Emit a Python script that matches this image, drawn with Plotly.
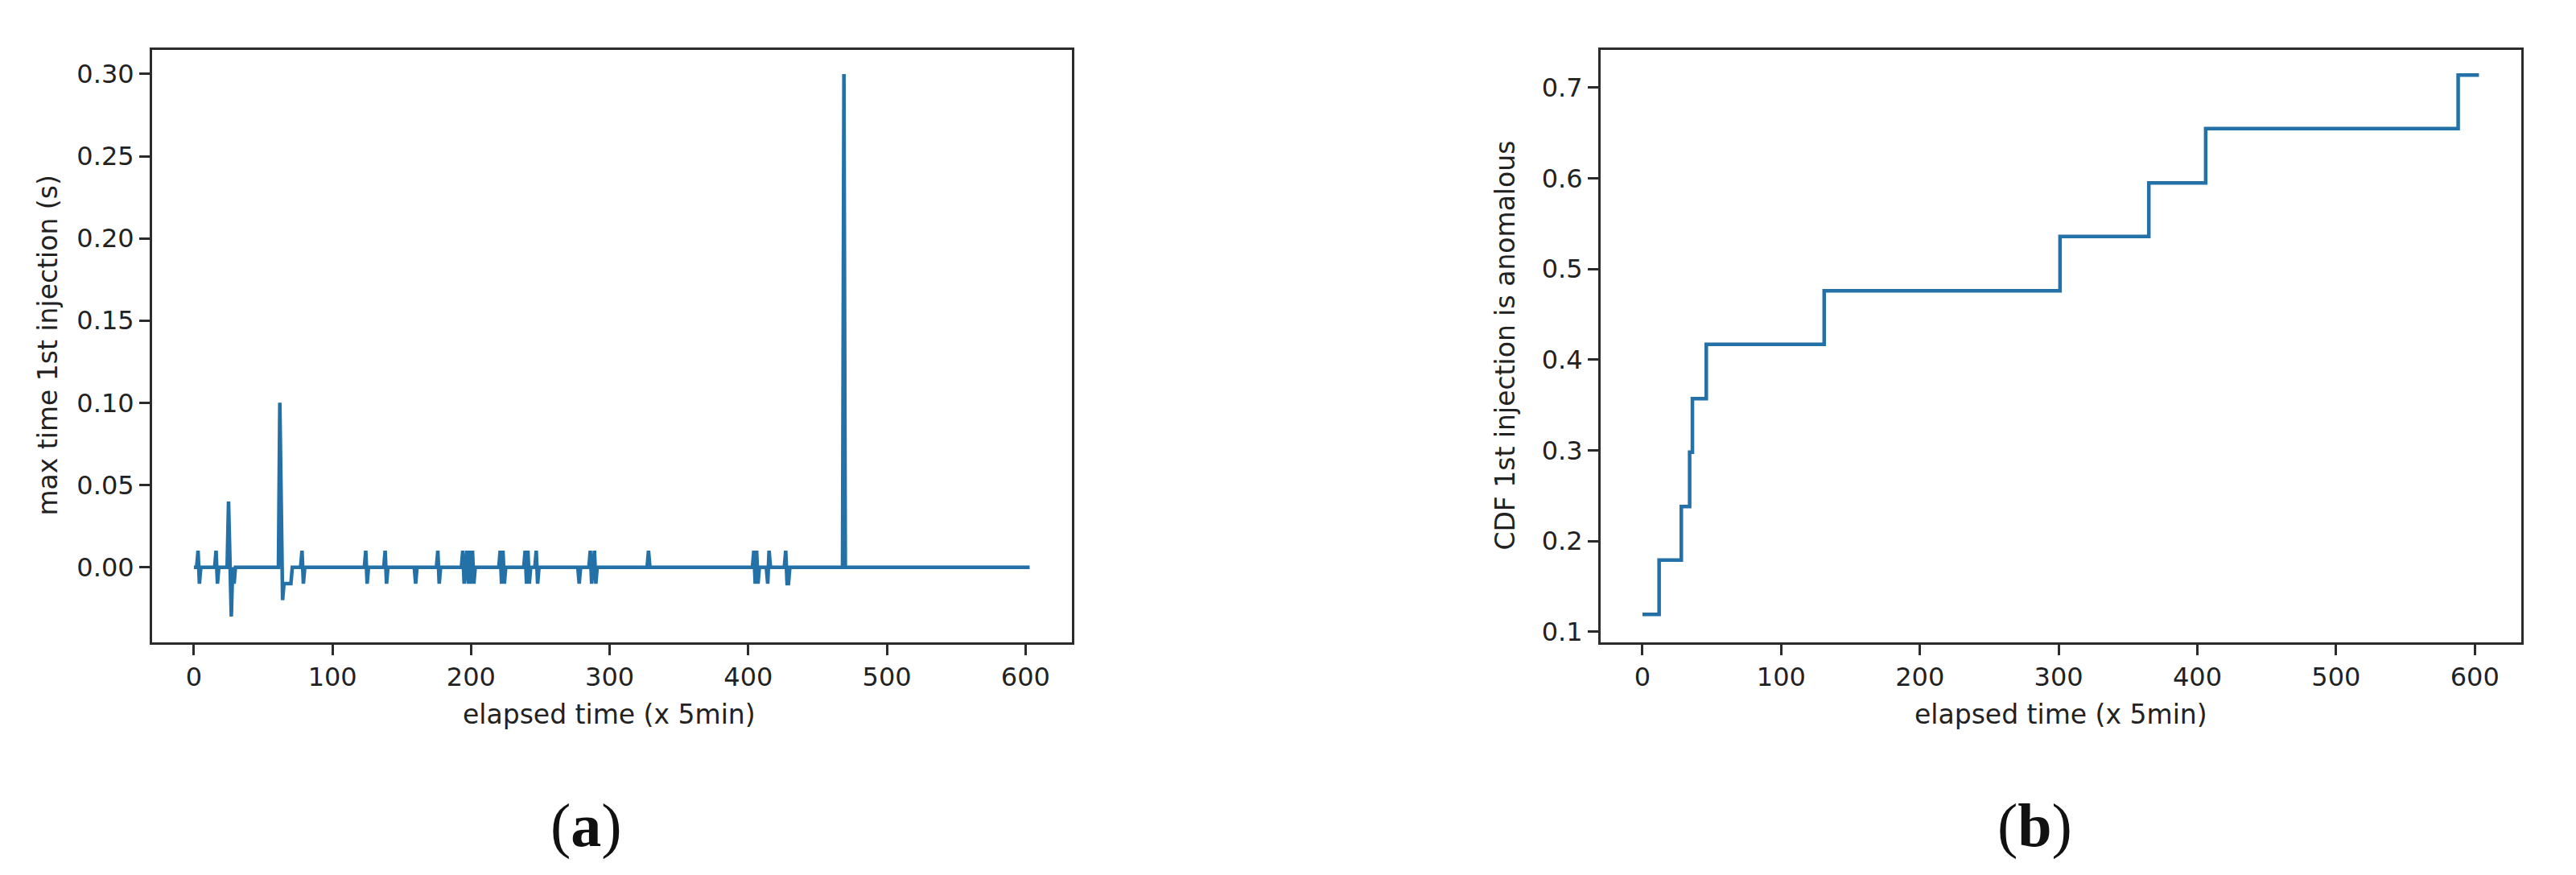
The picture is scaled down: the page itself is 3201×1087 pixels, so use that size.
import plotly.graph_objects as go

# (a) max time of 1st injection, breakpoints of the trace
time_a = [0, 2, 3, 4, 5, 15, 16, 17, 18, 24, 25, 27, 28, 29, 30,
          61, 62, 64, 65, 70, 71, 77, 78, 79, 80,
          123, 124, 125, 126, 137, 138, 139, 140, 159, 160, 161,
          175, 176, 177, 178, 193, 194, 195, 196, 197, 198, 199, 200, 201, 202, 203,
          220, 221, 222, 223, 224, 225, 238, 239, 240, 241, 242, 243,
          246, 247, 248, 249, 277, 278, 279, 285, 286, 287, 288, 289, 290, 291,
          327, 328, 329, 403, 404, 405, 406, 407, 408, 413, 414, 415, 416,
          426, 427, 428, 429, 430, 468, 469, 470, 603]
max_time = [0, 0, 0.01, -0.01, 0, 0, 0.01, -0.01, 0, 0, 0.04, -0.03, 0, -0.01, 0,
            0, 0.10, -0.02, -0.01, -0.01, 0, 0, 0.01, -0.01, 0,
            0, 0.01, -0.01, 0, 0, 0.01, -0.01, 0, 0, -0.01, 0,
            0, 0.01, -0.01, 0, 0, 0.01, -0.01, 0, 0.01, -0.01, 0.01, -0.01, 0.01, -0.01, 0,
            0, 0.01, -0.01, 0.01, -0.01, 0, 0, 0.01, -0.01, 0.01, -0.01, 0,
            0, 0.01, -0.01, 0, 0, -0.01, 0, 0, 0.01, -0.01, 0, 0.01, -0.01, 0,
            0, 0.01, 0, 0, 0.01, -0.01, 0.01, -0.01, 0, 0, -0.01, 0.01, 0,
            0, 0.01, -0.01, -0.01, 0, 0, 0.30, 0, 0]

# (b) CDF of the 1st injection being anomalous, step points
time_b = [0, 12, 28, 34, 36, 46, 131, 301, 365, 406, 588, 603]
cdf = [0.119, 0.179, 0.238, 0.298, 0.357, 0.417, 0.476, 0.536, 0.595, 0.655, 0.714, 0.714]

W, H = 3201, 1087
tick_font = dict(family="DejaVu Sans", size=32, color="#222222")
title_font = dict(family="DejaVu Sans", size=33, color="#222222")
label_font = dict(family="Liberation Serif, DejaVu Serif, serif", size=76, color="#111111")

fig = go.Figure()
fig.add_trace(go.Scatter(x=time_a, y=max_time, mode="lines",
                         line=dict(color="#2471a8", width=4.5),
                         xaxis="x", yaxis="y", showlegend=False))
fig.add_trace(go.Scatter(x=time_b, y=cdf, mode="lines", line_shape="hv",
                         line=dict(color="#2471a8", width=4.5),
                         xaxis="x2", yaxis="y2", showlegend=False))

axis_style = dict(showline=True, linewidth=3, linecolor="#2b2b2b", mirror=True,
                  ticks="outside", ticklen=13, tickwidth=2.5, tickcolor="#2b2b2b",
                  showgrid=False, zeroline=False, tickfont=tick_font)

fig.update_layout(
    width=W, height=H,
    margin=dict(l=0, r=0, t=0, b=0),
    paper_bgcolor="white", plot_bgcolor="white",
    xaxis=dict(domain=[189 / W, 1332 / W], range=[-30.15, 633.5], dtick=100, tick0=0,
               anchor="y", **axis_style),
    yaxis=dict(domain=[1 - 802 / H, 1 - 62 / H], range=[-0.0455, 0.3148], dtick=0.05,
               tick0=0, tickformat=".2f", anchor="x", **axis_style),
    xaxis2=dict(domain=[1989 / W, 3133 / W], range=[-30.15, 633.5], dtick=100, tick0=0,
                anchor="y2", **axis_style),
    yaxis2=dict(domain=[1 - 802 / H, 1 - 62 / H], range=[0.0885, 0.742], dtick=0.1,
                tick0=0, tickformat=".1f", anchor="x2", **axis_style),
)

annotations = [
    dict(text="elapsed time (x 5min)", x=757 / W, y=1 - 892 / H, font=title_font),
    dict(text="elapsed time (x 5min)", x=2561 / W, y=1 - 892 / H, font=title_font),
    dict(text="max time 1st injection (s)", x=60 / W, y=1 - 432 / H, textangle=-90,
         font=title_font),
    dict(text="CDF 1st injection is anomalous", x=1871 / W, y=1 - 432 / H, textangle=-90,
         font=title_font),
    dict(text="(<b>a</b>)", x=728 / W, y=1 - 1031 / H, font=label_font),
    dict(text="(<b>b</b>)", x=2528 / W, y=1 - 1031 / H, font=label_font),
]
for a in annotations:
    a.update(xref="paper", yref="paper", xanchor="center", yanchor="middle", showarrow=False)
fig.update_layout(annotations=annotations)

fig.write_html("out.html", config={"displayModeBar": False},
               post_script="document.body.style.margin='0';document.body.style.overflow='hidden';")
